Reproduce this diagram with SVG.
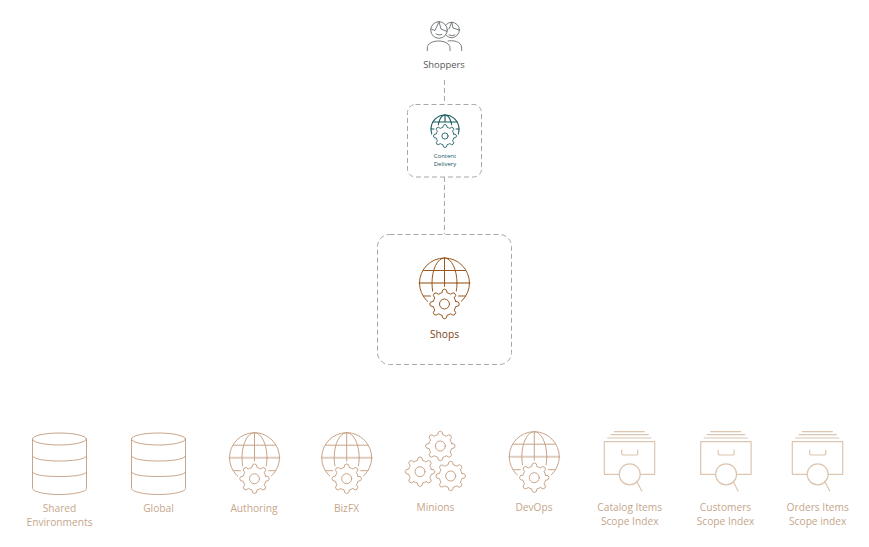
<svg xmlns="http://www.w3.org/2000/svg" width="869" height="547" viewBox="0 0 869 547">
<style>
text{font-family:"Open Sans","Noto Sans","Liberation Sans",sans-serif;text-anchor:middle;font-size:10.2px}
.i{fill:none;stroke-linejoin:round;stroke-linecap:round}
.tan{stroke:#c9a488;stroke-width:1}
.pale{stroke:#dcc6b1;stroke-width:1.2}
.brown{stroke:#99581f;stroke-width:1}
.teal{stroke:#17595e;stroke-width:1.1}
.grey{stroke:#6a6f73;stroke-width:.9}
.tl{fill:#c6a68b}.bl{fill:#7d4313}.gl{fill:#55595c;font-size:9.4px}.cl{fill:#17595e;font-size:6px}
.box{fill:none;stroke:#a8a8a8;stroke-width:1;stroke-dasharray:5 3}
.conn{stroke:#a8a8a8;stroke-width:1;stroke-dasharray:5 3;fill:none}
.halo{fill:#fff;stroke:#fff;stroke-width:5}
.gf{fill:#fff}
.mid{stroke-width:2;opacity:.55}
</style>
<defs>
<path id="gearshape" d="M11.2,-2.59Q14.8,-2.6 14.8,0Q14.8,2.6 11.2,2.59A11.5,11.5 0 0 1 9.75,6.09Q12.3,8.6 10.46,10.46Q8.6,12.3 6.09,9.75A11.5,11.5 0 0 1 2.59,11.2Q2.6,14.8 0,14.8Q-2.6,14.8 -2.59,11.2A11.5,11.5 0 0 1 -6.09,9.75Q-8.6,12.3 -10.46,10.46Q-12.3,8.6 -9.75,6.09A11.5,11.5 0 0 1 -11.2,2.59Q-14.8,2.6 -14.8,0Q-14.8,-2.6 -11.2,-2.59A11.5,11.5 0 0 1 -9.75,-6.09Q-12.3,-8.6 -10.46,-10.46Q-8.6,-12.3 -6.09,-9.75A11.5,11.5 0 0 1 -2.59,-11.2Q-2.6,-14.8 0,-14.8Q2.6,-14.8 2.59,-11.2A11.5,11.5 0 0 1 6.09,-9.75Q8.6,-12.3 10.46,-10.46Q12.3,-8.6 9.75,-6.09A11.5,11.5 0 0 1 11.2,-2.59Z"/>
<g id="gear"><use href="#gearshape" class="gf"/><circle r="5"/></g>
<g id="globe">
<circle r="25"/>
<ellipse rx="12.5" ry="25"/>
<path d="M0,-25V25M-21,-12.500H21"/>
<path class="mid" d="M-25,0H25"/>
<path d="M-21,13H21"/>
<use href="#gearshape" y="21" class="halo"/>
<use href="#gear" y="21"/>
</g>
<g id="cyl">
<ellipse cy="-19" rx="27" ry="6"/>
<path d="M-27,-19V30.500C-27,33.500 -15,36.500 0,36.500S27,33.500 27,30.500V-19"/>
<path d="M-27,-2.500C-27,1 -15,3 0,3S27,1 27,-2.500"/>
<path d="M-27,13.500C-27,17 -15,18.500 0,18.500S27,17 27,13.500"/>
</g>
<g id="idx">
<path d="M10,0H40M6.700,3H44M3.400,6.300H46.700"/>
<path d="M15.300,10H0V42.600H15M36,42.600H50.400V10H15.300"/>
<path d="M17.400,18.300V21.500Q17.400,23.300 19.400,23.300H31.400Q33.400,23.300 33.400,21.500V18.300"/>
<circle cx="25.400" cy="42.600" r="10.500"/>
<path d="M32.400,49.500L37.400,59.300"/>
</g>
</defs>
<g id="connectors">
<path class="conn" d="M444.500,80V104"/>
<path class="conn" d="M444.500,177V234"/>
</g>
<g id="shoppers">
<g class="i grey">
<circle cx="451.700" cy="30" r="7.700"/>
<circle cx="439" cy="30" r="8.300" fill="#fff"/>
<path d="M439,21.800L435,30.500L431,29M439,21.800L441,29L447,31.500M436,34Q439,36 442,34.500"/>
<path d="M451.700,22.300L449,29M451.700,22.300L453,28L459,30M449,35Q452,36.500 455,35"/>
<path d="M427.300,50.700V48C427.300,44 432,41 438.500,41S450,44 450,48V50.700"/>
<path d="M448,41C452,40 461.700,41 461.700,48V50.700"/>
</g>
<text x="444" y="68" class="gl">Shoppers</text>
</g>
<g id="content-delivery">
<rect class="box" x="407.500" y="104.500" width="74" height="72.500" rx="8"/>
<g class="i teal" transform="translate(445,129)">
<circle r="14"/>
<ellipse rx="7" ry="14"/>
<path d="M0,-14V14M-12,-7H12M-14,0H14"/>
<g transform="translate(0,7) scale(0.78)"><use href="#gearshape" class="halo"/><use href="#gearshape" class="gf"/><circle r="4"/></g>
</g>
<text x="445" y="158" class="cl">Content</text>
<text x="445" y="166" class="cl">Delivery</text>
</g>
<g id="shops">
<rect class="box" x="377.500" y="234.500" width="134" height="130" rx="12"/>
<use href="#globe" x="444.500" y="283" class="i brown"/>
<text x="444.500" y="338" class="bl">Shops</text>
</g>
<g id="shared-environments">
<use href="#cyl" x="59.500" y="458" class="i tan"/>
<text x="59.500" y="512" class="tl">Shared</text><text x="59.500" y="526" class="tl">Environments</text>
</g>
<g id="global">
<use href="#cyl" x="158.500" y="458" class="i tan"/>
<text x="158.500" y="512" class="tl">Global</text>
</g>
<g id="authoring">
<use href="#globe" x="254.500" y="457.700" class="i tan"/>
<text x="254" y="512" class="tl">Authoring</text>
</g>
<g id="bizfx">
<use href="#globe" x="346.700" y="457.700" class="i tan"/>
<text x="346.500" y="512" class="tl">BizFX</text>
</g>
<g id="minions">
<g class="i tan">
<use href="#gear" x="440.300" y="446"/>
<use href="#gear" x="420" y="471.700"/>
<use href="#gear" x="450.700" y="476"/>
</g>
<text x="435.500" y="511" class="tl">Minions</text>
</g>
<g id="devops">
<use href="#globe" x="534.300" y="456.700" class="i tan"/>
<text x="534" y="511" class="tl">DevOps</text>
</g>
<g id="catalog-items-scope-index">
<use href="#idx" x="604.300" y="431.700" class="i pale"/>
<text x="629.700" y="511" class="tl">Catalog Items</text><text x="629.700" y="525" class="tl">Scope Index</text>
</g>
<g id="customers-scope-index">
<use href="#idx" x="700.700" y="431.700" class="i pale"/>
<text x="725.500" y="511" class="tl">Customers</text><text x="725.500" y="525" class="tl">Scope Index</text>
</g>
<g id="orders-items-scope-index">
<use href="#idx" x="792.300" y="431.700" class="i pale"/>
<text x="817.700" y="511" class="tl">Orders Items</text><text x="817.700" y="525" class="tl">Scope index</text>
</g>
</svg>
